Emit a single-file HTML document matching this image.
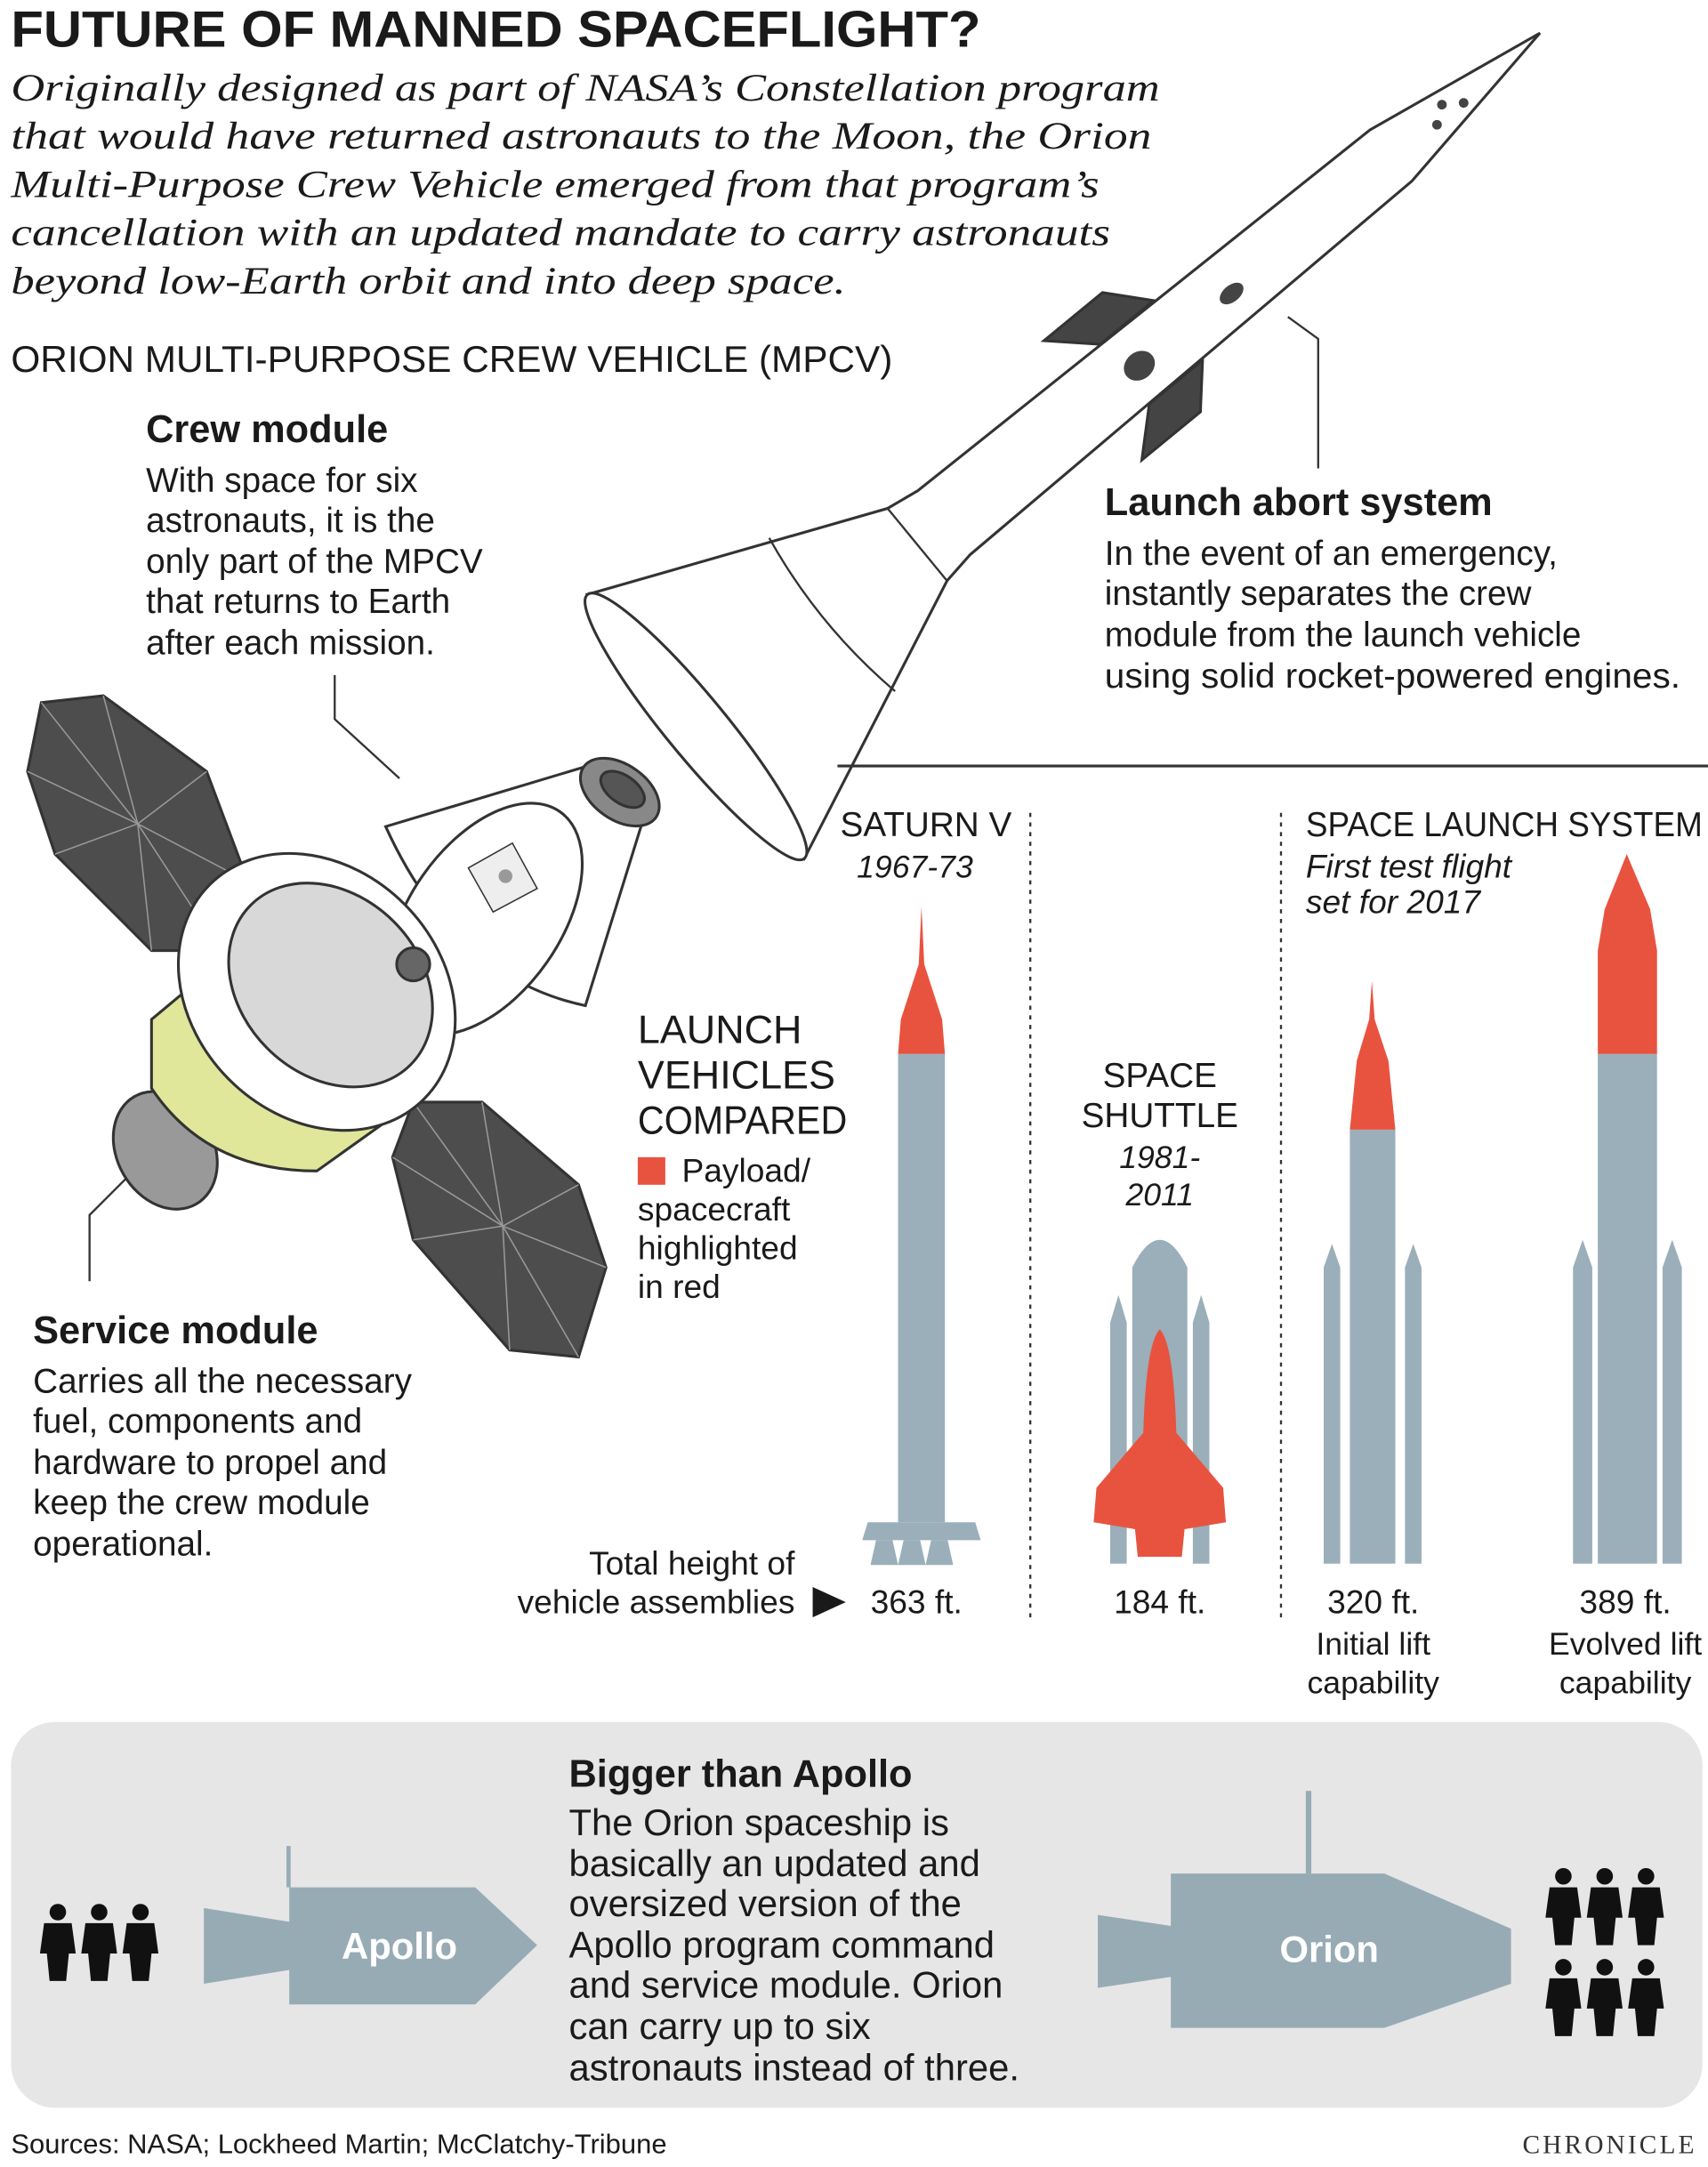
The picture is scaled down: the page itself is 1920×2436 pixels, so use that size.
<!DOCTYPE html>
<html><head><meta charset="utf-8"><style>
html,body{margin:0;padding:0;background:#fff;}
svg{display:block;}
.s{font-family:"Liberation Sans",sans-serif;fill:#1a1a1a;}
.b{font-weight:bold;}
.i{font-family:"Liberation Serif",serif;font-style:italic;fill:#1a1a1a;}
</style></head><body>
<svg width="1920" height="2436" viewBox="0 0 1240 1573" preserveAspectRatio="none" xmlns="http://www.w3.org/2000/svg">
<defs>
<g id="p"><circle cx="0" cy="0" r="6"/><path d="M-10,8 h20 l3,22 h-5 l-2,20 h-12 l-2,-20 h-5 z"/></g>
</defs>
<rect width="1240" height="1573" fill="#fff"/>
<text class="s b" x="8" y="34" font-size="37" textLength="704" lengthAdjust="spacingAndGlyphs">FUTURE OF MANNED SPACEFLIGHT?</text>
<g class="i" font-size="28">
<text x="8" y="73" textLength="834" lengthAdjust="spacingAndGlyphs">Originally designed as part of NASA’s Constellation program</text>
<text x="8" y="108" textLength="828" lengthAdjust="spacingAndGlyphs">that would have returned astronauts to the Moon, the Orion</text>
<text x="8" y="143" textLength="790" lengthAdjust="spacingAndGlyphs">Multi-Purpose Crew Vehicle emerged from that program’s</text>
<text x="8" y="178" textLength="798" lengthAdjust="spacingAndGlyphs">cancellation with an updated mandate to carry astronauts</text>
<text x="8" y="213" textLength="606" lengthAdjust="spacingAndGlyphs">beyond low-Earth orbit and into deep space.</text>
</g>
<text class="s" x="8" y="270" font-size="27" textLength="640" lengthAdjust="spacingAndGlyphs">ORION MULTI-PURPOSE CREW VEHICLE (MPCV)</text>

<!-- Rocket -->
<g transform="translate(1118,24) rotate(140.6)" stroke="#333" stroke-width="2" fill="#fff">
<path d="M0,0 L140,-24 L560,-30 L585,-34 L793,-124 L793,124 L585,34 L560,30 L140,24 Z"/>
<ellipse cx="793" cy="0" rx="22" ry="124"/>
<path d="M585,-34 L585,34" fill="none" stroke-width="1.5"/>
<path d="M665,-72 Q678,0 665,72" fill="none" stroke-width="1.5"/>
<path d="M340,-28 L390,-28 L420,-56 L365,-56 Z" fill="#444"/>
<path d="M340,28 L390,28 L420,56 L365,56 Z" fill="#444"/>
<ellipse cx="293" cy="-4" rx="10" ry="6" fill="#444" stroke="none"/>
<ellipse cx="378" cy="-2" rx="12" ry="10" fill="#444" stroke="none"/>
<circle cx="75" cy="-4" r="3.5" fill="#444" stroke="none"/>
<circle cx="88" cy="5" r="3.5" fill="#444" stroke="none"/>
<circle cx="100" cy="-4" r="3.5" fill="#444" stroke="none"/>
</g>
<polyline points="935,230 957,246 957,340" fill="none" stroke="#333" stroke-width="1.5"/>

<text class="s b" x="106" y="321" font-size="28">Crew module</text>
<g class="s" font-size="25">
<text x="106" y="357">With space for six</text>
<text x="106" y="386">astronauts, it is the</text>
<text x="106" y="416">only part of the MPCV</text>
<text x="106" y="445">that returns to Earth</text>
<text x="106" y="475">after each mission.</text>
</g>
<polyline points="243,490 243,522 290,565" fill="none" stroke="#333" stroke-width="1.5"/>

<text class="s b" x="802" y="374" font-size="28">Launch abort system</text>
<g class="s" font-size="25">
<text x="802" y="410">In the event of an emergency,</text>
<text x="802" y="439">instantly separates the crew</text>
<text x="802" y="469">module from the launch vehicle</text>
<text x="802" y="499" textLength="418" lengthAdjust="spacingAndGlyphs">using solid rocket-powered engines.</text>
</g>

<!-- Crew module capsule -->
<g stroke="#333" stroke-width="2">
<path d="M430,555 L470,585 L425,730 Q330,710 280,600 Z" fill="#fff"/>
<ellipse cx="352" cy="667" rx="95" ry="55" transform="rotate(-55 352 667)" fill="#fff"/>
<ellipse cx="450" cy="575" rx="20" ry="32" transform="rotate(-55 450 575)" fill="#888"/>
<ellipse cx="452" cy="573" rx="10" ry="18" transform="rotate(-55 452 573)" fill="#555"/>
<path d="M340,630 L372,612 L390,645 L358,662 Z" fill="#eee" stroke-width="1"/>
<circle cx="367" cy="636" r="5" fill="#999" stroke="none"/>
</g>

<!-- Service module -->
<g stroke="#333" stroke-width="2">
<path d="M30,510 L75,505 L150,560 L180,640 L160,690 L110,690 L40,620 L20,560 Z" fill="#4d4d4d"/>
<g stroke="#999" stroke-width="1">
<line x1="100" y1="598" x2="30" y2="510"/><line x1="100" y1="598" x2="150" y2="560"/>
<line x1="100" y1="598" x2="180" y2="640"/><line x1="100" y1="598" x2="110" y2="690"/>
<line x1="100" y1="598" x2="20" y2="560"/><line x1="100" y1="598" x2="75" y2="505"/>
<line x1="100" y1="598" x2="40" y2="620"/><line x1="100" y1="598" x2="160" y2="690"/>
</g>
<path d="M300,800 L350,800 L420,860 L440,920 L420,985 L370,980 L300,900 L285,840 Z" fill="#4d4d4d"/>
<g stroke="#999" stroke-width="1">
<line x1="365" y1="890" x2="300" y2="800"/><line x1="365" y1="890" x2="350" y2="800"/>
<line x1="365" y1="890" x2="420" y2="860"/><line x1="365" y1="890" x2="440" y2="920"/>
<line x1="365" y1="890" x2="420" y2="985"/><line x1="365" y1="890" x2="370" y2="980"/>
<line x1="365" y1="890" x2="300" y2="900"/><line x1="365" y1="890" x2="285" y2="840"/>
</g>
<ellipse cx="120" cy="835" rx="35" ry="45" fill="#999" transform="rotate(-30 120 835)"/>
<path d="M110,740 L170,690 L300,800 L230,850 Q150,850 110,790 Z" fill="#e0e69a"/>
<ellipse cx="230" cy="720" rx="90" ry="110" transform="rotate(-45 230 720)" fill="#fff"/>
<ellipse cx="240" cy="715" rx="65" ry="82" transform="rotate(-45 240 715)" fill="#d8d8d8"/>
<circle cx="300" cy="700" r="12" fill="#666"/>
</g>
<polyline points="65,930 65,882 92,855" fill="none" stroke="#333" stroke-width="1.5"/>
<text class="s b" x="24" y="975" font-size="28">Service module</text>
<g class="s" font-size="25">
<text x="24" y="1011">Carries all the necessary</text>
<text x="24" y="1040">fuel, components and</text>
<text x="24" y="1070">hardware to propel and</text>
<text x="24" y="1099">keep the crew module</text>
<text x="24" y="1129">operational.</text>
</g>

<!-- Comparison chart -->
<line x1="608" y1="556" x2="1240" y2="556" stroke="#333" stroke-width="2"/>
<line x1="748" y1="590" x2="748" y2="1175" stroke="#333" stroke-width="1.5" stroke-dasharray="3,4"/>
<line x1="930" y1="590" x2="930" y2="1175" stroke="#333" stroke-width="1.5" stroke-dasharray="3,4"/>
<text class="s" x="610" y="607" font-size="25">SATURN V</text>
<text class="s" x="622" y="637" font-size="23" font-style="italic">1967-73</text>
<text class="s" x="948" y="607" font-size="25" textLength="288" lengthAdjust="spacingAndGlyphs">SPACE LAUNCH SYSTEM</text>
<text class="s" x="948" y="637" font-size="24" font-style="italic">First test flight</text>
<text class="s" x="948" y="663" font-size="24" font-style="italic">set for 2017</text>
<g class="s" font-size="29">
<text x="463" y="757">LAUNCH</text>
<text x="463" y="790">VEHICLES</text>
<text x="463" y="823" textLength="152" lengthAdjust="spacingAndGlyphs">COMPARED</text>
</g>
<rect x="463" y="840" width="20" height="20" fill="#e8533f"/>
<g class="s" font-size="24">
<text x="495" y="858">Payload/</text>
<text x="463" y="886">spacecraft</text>
<text x="463" y="914">highlighted</text>
<text x="463" y="942">in red</text>
</g>
<g class="s" font-size="25" text-anchor="middle">
<text x="842" y="789">SPACE</text>
<text x="842" y="818">SHUTTLE</text>
<text x="842" y="848" font-size="23" font-style="italic">1981-</text>
<text x="842" y="875" font-size="23" font-style="italic">2011</text>
</g>

<g fill="#9aafb9">
<rect x="652" y="765" width="34" height="340"/>
<path d="M630,1105 L708,1105 L712,1118 L626,1118 Z"/>
<path d="M636,1118 h12 l4,18 h-20 z M656,1118 h12 l4,18 h-20 z M676,1118 h12 l4,18 h-20 z"/>
</g>
<path d="M669,658 L671,700 L684,740 L686,765 L652,765 L654,740 L667,700 Z" fill="#e8533f"/>
<g fill="#9aafb9">
<path d="M822,1105 L822,920 Q842,880 862,920 L862,1105 Z"/>
<path d="M806,1135 L806,960 L812,940 L818,960 L818,1135 Z"/>
<path d="M866,1135 L866,960 L872,940 L878,960 L878,1135 Z"/>
</g>
<path d="M842,965 Q852,975 854,1040 L888,1080 L890,1105 L860,1110 L858,1130 L826,1130 L824,1110 L794,1105 L796,1080 L830,1040 Q832,975 842,965 Z" fill="#e8533f"/>
<g fill="#9aafb9">
<rect x="980" y="820" width="33" height="315"/>
<path d="M961,1135 L961,920 L967,903 L973,920 L973,1135 Z"/>
<path d="M1020,1135 L1020,920 L1026,903 L1032,920 L1032,1135 Z"/>
</g>
<path d="M996,712 L998,740 L1008,770 L1013,820 L980,820 L985,770 L994,740 Z" fill="#e8533f"/>
<g fill="#9aafb9">
<rect x="1160" y="765" width="43" height="370"/>
<path d="M1142,1135 L1142,920 L1149,900 L1156,920 L1156,1135 Z"/>
<path d="M1207,1135 L1207,920 L1214,900 L1221,920 L1221,1135 Z"/>
</g>
<path d="M1181,620 L1198,660 L1203,690 L1203,765 L1160,765 L1160,690 L1165,660 Z" fill="#e8533f"/>

<g class="s" font-size="24">
<text x="577" y="1143" text-anchor="end">Total height of</text>
<text x="577" y="1171" text-anchor="end">vehicle assemblies</text>
<text x="632" y="1171">363 ft.</text>
<text x="842" y="1171" text-anchor="middle">184 ft.</text>
<text x="997" y="1171" text-anchor="middle">320 ft.</text>
<text x="1180" y="1171" text-anchor="middle">389 ft.</text>
<text x="997" y="1201" text-anchor="middle" font-size="23">Initial lift</text>
<text x="997" y="1229" text-anchor="middle" font-size="23">capability</text>
<text x="1180" y="1201" text-anchor="middle" font-size="23">Evolved lift</text>
<text x="1180" y="1229" text-anchor="middle" font-size="23">capability</text>
</g>
<path d="M590,1152 L614,1163 L590,1174 Z" fill="#1a1a1a"/>

<rect x="8" y="1250" width="1228" height="280" rx="32" fill="#e6e6e6"/>
<text class="s b" x="413" y="1297" font-size="28">Bigger than Apollo</text>
<g class="s" font-size="27">
<text x="413" y="1332">The Orion spaceship is</text>
<text x="413" y="1362">basically an updated and</text>
<text x="413" y="1391">oversized version of the</text>
<text x="413" y="1421">Apollo program command</text>
<text x="413" y="1450">and service module. Orion</text>
<text x="413" y="1480">can carry up to six</text>
<text x="413" y="1510">astronauts instead of three.</text>
</g>
<g fill="#97abb5">
<path d="M148,1385 L210,1395 L210,1370 L345,1370 L390,1412 L345,1455 L210,1455 L210,1430 L148,1440 Z"/>
<rect x="208" y="1340" width="3" height="30"/>
</g>
<text class="s b" x="290" y="1422" font-size="27" text-anchor="middle" style="fill:#fff">Apollo</text>
<g fill="#97abb5">
<path d="M797,1390 L850,1398 L850,1360 L1005,1360 L1097,1400 L1097,1440 L1005,1472 L850,1472 L850,1435 L797,1443 Z"/>
<rect x="948" y="1300" width="4" height="60"/>
</g>
<text class="s b" x="965" y="1424" font-size="27" style="fill:#fff" text-anchor="middle">Orion</text>
<g fill="#111">
<use href="#p" x="42" y="1388"/><use href="#p" x="72" y="1388"/><use href="#p" x="102" y="1388"/>
<use href="#p" x="1135" y="1362"/><use href="#p" x="1165" y="1362"/><use href="#p" x="1195" y="1362"/>
<use href="#p" x="1135" y="1428"/><use href="#p" x="1165" y="1428"/><use href="#p" x="1195" y="1428"/>
</g>
<text class="s" x="8" y="1563" font-size="20">Sources: NASA; Lockheed Martin; McClatchy-Tribune</text>
<text x="1232" y="1563" font-size="19" text-anchor="end" font-family="Liberation Serif, serif" letter-spacing="2" fill="#333">CHRONICLE</text>
</svg>
</body></html>
